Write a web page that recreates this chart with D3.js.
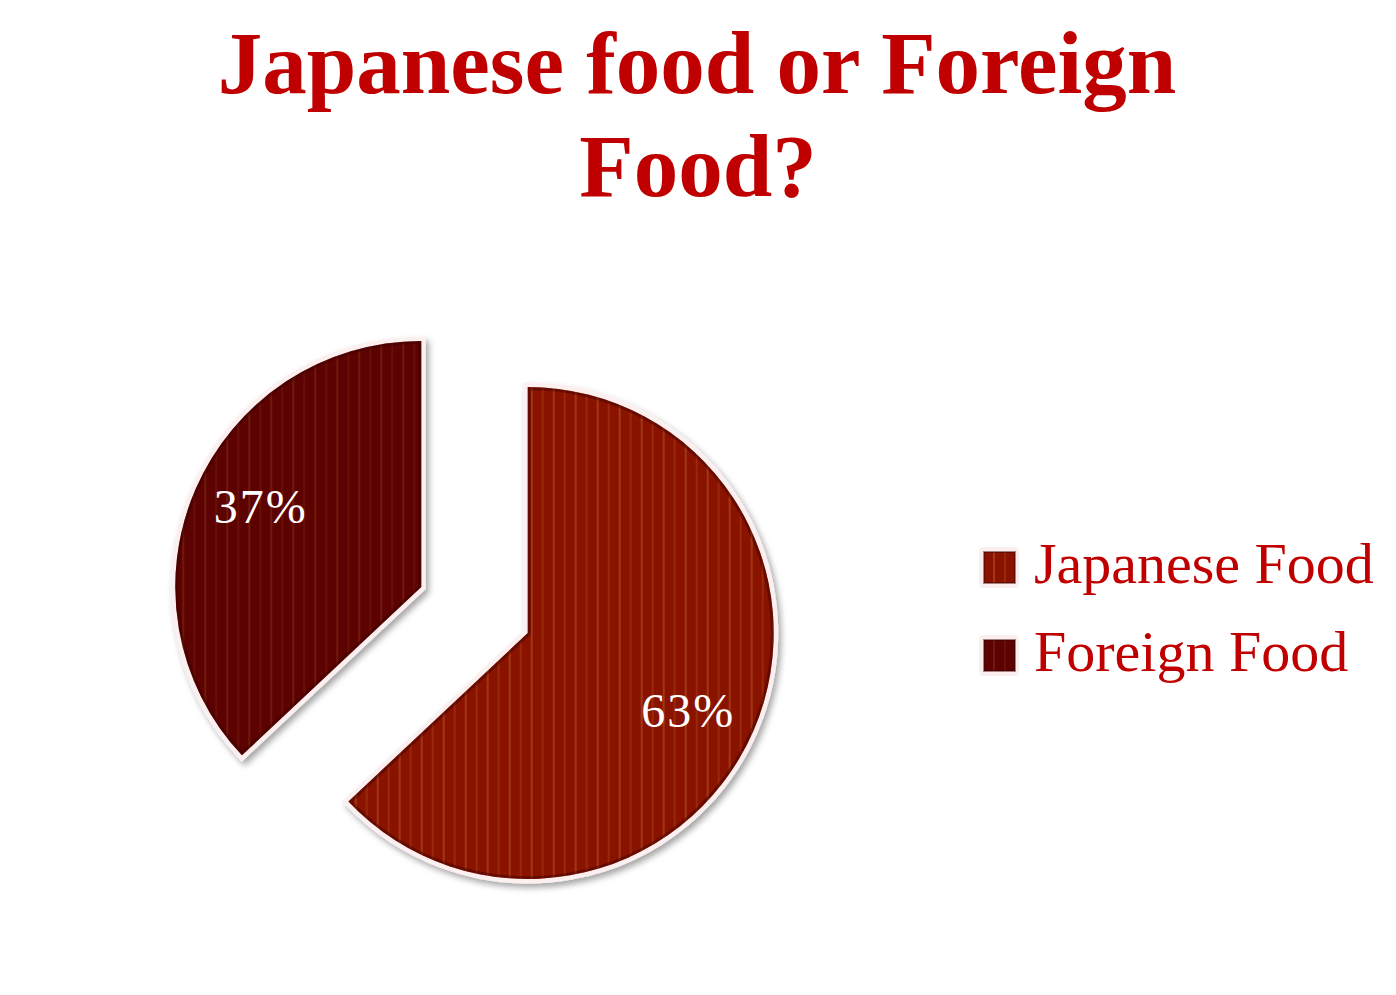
<!DOCTYPE html>
<html>
<head>
<meta charset="utf-8">
<script src="https://cdn.jsdelivr.net/npm/d3@7/dist/d3.min.js"></script>
<style>
  html, body { margin: 0; padding: 0; background: #ffffff; }
  svg { display: block; }
</style>
</head>
<body>
<svg id="chart" width="1396" height="995"></svg>
<script>
// ---- data ----
const titleLines = ["Japanese food or Foreign", "Food?"];
const categories = ["Japanese Food", "Foreign Food"];
const values = [63, 37];
const labels = ["63%", "37%"];
const baseColors = ["#8a1300", "#5c0200"];
const stripeColors = ["#a8421c", "#76200f"];

const svg = d3.select("#chart");
const defs = svg.append("defs");

// shadow filter
const f = defs.append("filter").attr("id", "shadow")
  .attr("x", "-20%").attr("y", "-20%").attr("width", "140%").attr("height", "140%");
f.append("feDropShadow").attr("dx", 3).attr("dy", 4).attr("stdDeviation", 3)
  .attr("flood-color", "#000").attr("flood-opacity", 0.35);

// stripe patterns
categories.forEach((c, i) => {
  const p = defs.append("pattern").attr("id", "stripe" + i)
    .attr("patternUnits", "userSpaceOnUse").attr("width", 22).attr("height", 10);
  p.append("rect").attr("width", 22).attr("height", 10).attr("fill", baseColors[i]);
  p.append("rect").attr("x", 3).attr("width", 2).attr("height", 10)
    .attr("fill", stripeColors[i]).attr("opacity", 0.75);
  p.append("rect").attr("x", 14).attr("width", 2).attr("height", 10)
    .attr("fill", stripeColors[i]).attr("opacity", 0.45);
});

// ---- title ----
const title = svg.append("g").attr("fill", "#c00000")
  .attr("font-family", "'Liberation Serif', 'DejaVu Serif', serif")
  .attr("font-weight", "bold").attr("font-size", 89).attr("text-anchor", "middle");
title.append("text").attr("x", 697).attr("y", 93).text(titleLines[0]);
title.append("text").attr("x", 698).attr("y", 196).text(titleLines[1]);

// ---- pie ----
const cx = 474.5, cy = 610, r = 246, explode = 58;
const labelR = 179, labelRot = 0.05;
const pie = d3.pie().sort(null).value(d => d).startAngle(0).endAngle(2 * Math.PI);
const arcs = pie(values);
const arc = d3.arc().innerRadius(0).outerRadius(r);

const pieG = svg.append("g").attr("transform", `translate(${cx},${cy})`);

arcs.forEach((a, i) => {
  const mid = (a.startAngle + a.endAngle) / 2;
  const dx = Math.sin(mid) * explode, dy = -Math.cos(mid) * explode;
  const g = pieG.append("g").attr("transform", `translate(${dx},${dy})`);
  const d = arc(a);
  // border with shadow
  g.append("path").attr("d", d).attr("fill", "#fcefef").attr("stroke", "#fcefef")
    .attr("stroke-width", 9).attr("stroke-linejoin", "miter").attr("filter", "url(#shadow)");
  // fill
  const clipId = "clip" + i;
  defs.append("clipPath").attr("id", clipId)
    .append("path").attr("d", d).attr("transform", `translate(${cx + dx},${cy + dy})`);
  g.append("path").attr("d", d).attr("fill", `url(#stripe${i})`);
  // inner dark edge
  const edge = svg.append("g").attr("clip-path", `url(#${clipId})`);
  edge.append("path").attr("d", d).attr("transform", `translate(${cx + dx},${cy + dy})`)
    .attr("fill", "none").attr("stroke", "#3a0000").attr("stroke-opacity", 0.45)
    .attr("stroke-width", 6);
  // label
  const la = mid + labelRot;
  const lx = Math.sin(la) * labelR, ly = -Math.cos(la) * labelR;
  svg.append("text").attr("x", cx + dx + lx).attr("y", cy + dy + ly + 15)
    .attr("text-anchor", "middle").attr("fill", "#ffffff")
    .attr("font-family", "'Liberation Serif', 'DejaVu Serif', serif")
    .attr("font-size", 48).attr("letter-spacing", 2).text(labels[i]);
});

// ---- legend ----
const legendY = d3.scalePoint().domain(categories).range([567, 655]);
const leg = svg.append("g");
categories.forEach((c, i) => {
  const y = legendY(c);
  leg.append("rect").attr("x", 979).attr("y", y - 20).attr("width", 40).attr("height", 41)
    .attr("rx", 4).attr("fill", "#fbeeee");
  leg.append("rect").attr("x", 984).attr("y", y - 15).attr("width", 31).attr("height", 31)
    .attr("fill", `url(#stripe${i})`).attr("stroke", "#3a0000").attr("stroke-opacity", 0.45)
    .attr("stroke-width", 2);
  leg.append("text").attr("x", 1034).attr("y", y + 16).attr("fill", "#c00000")
    .attr("font-family", "'Liberation Serif', 'DejaVu Serif', serif")
    .attr("font-size", 58).text(c);
});
</script>
</body>
</html>
